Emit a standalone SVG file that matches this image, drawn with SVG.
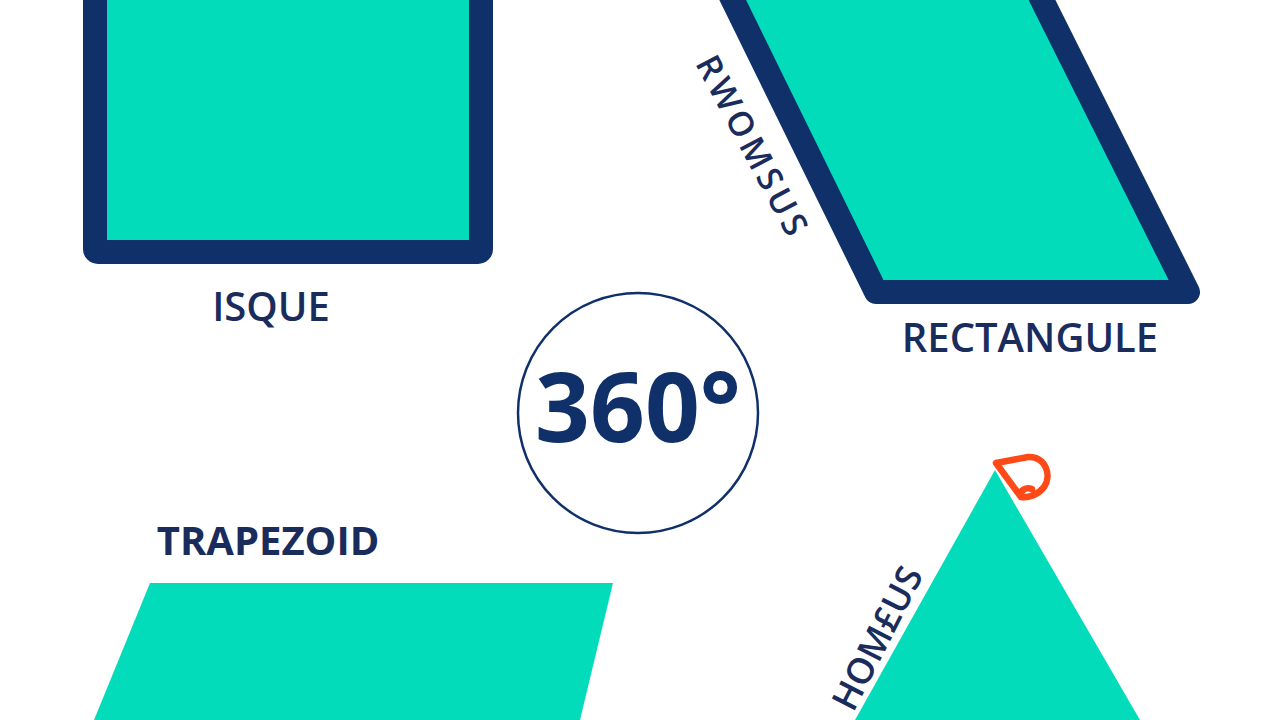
<svg xmlns="http://www.w3.org/2000/svg" width="1280" height="720" viewBox="0 0 1280 720">
<style>
.fill{fill:#03dcbb}
.outl{fill:#03dcbb;stroke:#10306a;stroke-width:24;stroke-linejoin:round}
.lbl{font-family:"Open Sans","Liberation Sans",sans-serif;fill:#1a2c5c;font-weight:600;text-anchor:middle}
.bold{font-weight:700}
</style>
<rect width="1280" height="720" fill="#ffffff"/>
<g id="square">
<rect class="outl" x="95" y="-30" width="386" height="282" rx="3"/>
<text class="lbl" x="271" y="321" font-size="40">ISQUE</text>
</g>
<g id="parallelogram">
<polygon class="outl" points="718,-30 1027,-30 1188,292 876,292"/>
<text class="lbl" x="1030" y="352" font-size="40">RECTANGULE</text>
<g transform="translate(753,147) rotate(62)"><text class="lbl" x="0" y="12" font-size="34" letter-spacing="4">RWOMSUS</text></g>
</g>
<g id="center">
<circle cx="638" cy="413" r="120" fill="none" stroke="#10306a" stroke-width="2.5"/>
<text class="lbl bold" x="638" y="442" font-size="96" style="fill:#10306a">360°</text>
</g>
<g id="trapezoid">
<text class="lbl bold" x="268" y="555" font-size="40">TRAPEZOID</text>
<polygon class="fill" points="150,583 613,583 580,720 94,720"/>
</g>
<g id="triangle">
<polygon class="fill" points="995,470 1140,720 855,720"/>
<path d="M996 463 L1028 457 C1046 456 1052 476 1044 487 C1038 495 1028 498 1021 497 L996 463 M1021 497 C1019 490 1026 487 1032 489" fill="none" stroke="#ff4a17" stroke-width="6.5" stroke-linejoin="round" stroke-linecap="round"/>
<g transform="translate(877,638) rotate(-63)"><text class="lbl" x="0" y="13" font-size="36">HOM£US</text></g>
</g>
<g id="connectors"></g>
</svg>
